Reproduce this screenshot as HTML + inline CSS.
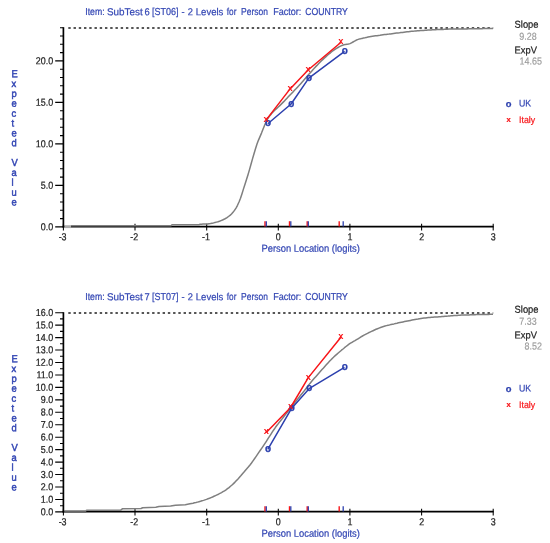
<!DOCTYPE html>
<html><head><meta charset="utf-8"><title>Item Characteristic Curves</title>
<style>
html,body{margin:0;padding:0;background:#fff}
svg{display:block}
.t{font-family:"Liberation Sans",sans-serif;font-size:9.35px;stroke-width:.2px}
.m{font-family:"Liberation Sans",sans-serif;font-size:9.35px;font-weight:bold}
.s{font-size:7.6px}.lg{font-size:8.8px}.v{stroke-width:.45px}.mo{font-size:10px;stroke-width:.25px}
.b{fill:#3447b4;stroke:#3447b4}.k{fill:#1a1a1a;stroke:#1a1a1a;stroke-width:.2px}.g{fill:#9a9a9a;stroke:#9a9a9a;stroke-width:.15px}
</style></head><body>
<svg width="550" height="543" viewBox="0 0 550 543">
<rect width="550" height="543" fill="#fff"/>
<g transform="translate(0,0)">
<text transform="translate(0,15.2) rotate(0.03) scale(1,1.08)" class="t b"><tspan x="85.3" textLength="19.3" lengthAdjust="spacingAndGlyphs">Item:</tspan> <tspan x="107.0" textLength="35.7" lengthAdjust="spacingAndGlyphs">SubTest</tspan> <tspan x="144.4">6</tspan> <tspan x="152.0" textLength="26.4" lengthAdjust="spacingAndGlyphs">[ST06]</tspan> <tspan x="181.5">-</tspan> <tspan x="187.8">2</tspan> <tspan x="195.8" textLength="27.5" lengthAdjust="spacingAndGlyphs">Levels</tspan> <tspan x="226.8" textLength="9.6" lengthAdjust="spacingAndGlyphs">for</tspan> <tspan x="241.1" textLength="26.8" lengthAdjust="spacingAndGlyphs">Person</tspan> <tspan x="273.2" textLength="28.1" lengthAdjust="spacingAndGlyphs">Factor:</tspan> <tspan x="305.2" textLength="42.7" lengthAdjust="spacingAndGlyphs">COUNTRY</tspan></text>
<line x1="68.3" y1="28" x2="493.2" y2="28" stroke="#555" stroke-width="1.9" stroke-dasharray="2.4 2.84"/>
<line x1="63.4" y1="27.2" x2="63.4" y2="227.5" stroke="#000" stroke-width="1.7"/>
<line x1="62.6" y1="226.7" x2="493.6" y2="226.7" stroke="#000" stroke-width="1.7"/>
<path d="M55.2,226.90H63.4M60.0,218.60H63.4M60.0,210.30H63.4M60.0,202.00H63.4M60.0,193.70H63.4M55.2,185.40H63.4M60.0,177.10H63.4M60.0,168.80H63.4M60.0,160.50H63.4M60.0,152.20H63.4M55.2,143.90H63.4M60.0,135.60H63.4M60.0,127.30H63.4M60.0,119.00H63.4M60.0,110.70H63.4M55.2,102.40H63.4M60.0,94.10H63.4M60.0,85.80H63.4M60.0,77.50H63.4M60.0,69.20H63.4M55.2,60.90H63.4M60.0,52.60H63.4M60.0,44.30H63.4M60.0,36.00H63.4M60.0,27.70H63.4" stroke="#000" stroke-width="1.1" fill="none"/>
<text transform="translate(53.1,230.2) rotate(0.03) scale(0.955,1.08)" class="t k" text-anchor="end">0.0</text>
<text transform="translate(53.1,188.7) rotate(0.03) scale(0.955,1.08)" class="t k" text-anchor="end">5.0</text>
<text transform="translate(53.1,147.2) rotate(0.03) scale(0.955,1.08)" class="t k" text-anchor="end">10.0</text>
<text transform="translate(53.1,105.7) rotate(0.03) scale(0.955,1.08)" class="t k" text-anchor="end">15.0</text>
<text transform="translate(53.1,64.2) rotate(0.03) scale(0.955,1.08)" class="t k" text-anchor="end">20.0</text>
<text transform="translate(62.6,240.2) rotate(0.03) scale(0.955,1.08)" class="t k" text-anchor="middle">-3</text>
<text transform="translate(134.2,240.2) rotate(0.03) scale(0.955,1.08)" class="t k" text-anchor="middle">-2</text>
<text transform="translate(205.9,240.2) rotate(0.03) scale(0.955,1.08)" class="t k" text-anchor="middle">-1</text>
<text transform="translate(278.3,240.2) rotate(0.03) scale(0.955,1.08)" class="t k" text-anchor="middle">0</text>
<text transform="translate(349.9,240.2) rotate(0.03) scale(0.955,1.08)" class="t k" text-anchor="middle">1</text>
<text transform="translate(421.6,240.2) rotate(0.03) scale(0.955,1.08)" class="t k" text-anchor="middle">2</text>
<text transform="translate(493.2,240.2) rotate(0.03) scale(0.955,1.08)" class="t k" text-anchor="middle">3</text>
<path d="M63.4,223.8V230.4M135.0,223.8V230.4M206.7,223.8V230.4M278.3,223.8V230.4M349.9,223.8V230.4M421.6,223.8V230.4M493.2,223.8V230.4" stroke="#000" stroke-width="1.05" fill="none"/>
<text transform="translate(261.5,251.8) rotate(0.03) scale(1,1.08)" class="t b" textLength="98.4" lengthAdjust="spacingAndGlyphs">Person Location (logits)</text>
<text transform="translate(11.5,0) rotate(0.03) scale(1,1.08)" class="t b v" x="0 0 0 0 0 0 0 0 0 0 0 0 0 0" y="71.48 80.62 89.76 98.90 108.04 117.18 126.31 135.45 144.59 153.73 162.87 172.01 181.15 190.29">Expected Value</text>
<line x1="64.4" y1="227" x2="71" y2="227" stroke="#aaa" stroke-width="2.2"/>
<polyline points="71.0,225.8 171.0,225.8 172.0,224.8 199.0,224.8 200.0,224.2 201.5,224.2 203.0,224.1 204.5,224.1 206.0,224.0 207.5,223.9 209.0,223.7 210.5,223.5 212.0,223.2 213.5,222.9 215.0,222.5 216.5,222.1 218.0,221.7 219.5,221.2 221.0,220.6 222.5,220.0 224.0,219.3 225.5,218.5 227.0,217.6 228.5,216.5 230.0,215.4 231.5,214.0 233.0,212.3 234.5,210.4 236.0,208.1 237.5,205.3 239.0,202.0 240.5,198.2 242.0,193.7 243.5,188.9 245.0,184.2 246.5,179.5 248.0,174.7 249.5,169.6 251.0,164.2 252.5,158.9 254.0,153.7 255.5,148.7 257.0,144.1 258.5,140.1 260.0,136.6 261.5,133.1 263.0,129.2 264.5,125.5 266.0,122.1 267.5,119.2 269.0,116.9 270.5,114.9 272.0,113.1 273.5,111.5 275.0,110.0 276.5,108.6 278.0,107.2 279.5,105.9 281.0,104.4 282.5,102.9 284.0,101.4 285.5,99.8 287.0,98.2 288.5,96.6 290.0,95.0 291.5,93.5 293.0,91.9 294.5,90.3 296.0,88.8 297.5,87.2 299.0,85.6 300.5,83.9 302.0,82.2 303.5,80.5 305.0,78.7 306.5,76.9 308.0,75.2 309.5,73.5 311.0,71.9 312.5,70.2 314.0,68.6 315.5,66.9 317.0,65.4 318.5,63.8 320.0,62.3 321.5,60.8 323.0,59.4 324.5,58.0 326.0,56.6 327.5,55.3 329.0,54.0 330.5,52.8 332.0,51.5 333.5,50.4 335.0,49.4 336.5,48.4 338.0,47.5 339.5,46.7 341.0,45.9 342.5,45.3 344.0,44.8 345.5,44.4 347.0,44.2 348.5,44.0 350.0,43.6 351.5,42.8 353.0,42.0 354.5,41.2 356.0,40.3 357.5,39.6 359.0,39.1 360.5,38.8 362.0,38.4 363.5,38.1 365.0,37.8 366.5,37.4 368.0,37.1 369.5,36.8 371.0,36.5 372.5,36.2 374.0,36.0 375.5,35.8 377.0,35.7 378.5,35.5 380.0,35.3 381.5,35.0 383.0,34.8 384.5,34.6 386.0,34.4 387.5,34.2 389.0,34.1 390.5,33.9 392.0,33.7 393.5,33.5 395.0,33.3 396.5,33.1 398.0,32.9 399.5,32.8 401.0,32.6 402.5,32.4 404.0,32.2 405.5,32.0 407.0,31.8 408.5,31.7 410.0,31.5 411.5,31.3 413.0,31.2 414.5,31.1 416.0,30.9 417.5,30.8 419.0,30.7 420.5,30.6 422.0,30.5 423.5,30.4 425.0,30.3 426.5,30.2 428.0,30.1 429.5,30.0 431.0,29.9 432.5,29.8 434.0,29.8 435.5,29.7 437.0,29.6 438.5,29.6 440.0,29.5 441.5,29.4 443.0,29.4 444.5,29.3 446.0,29.3 447.5,29.2 449.0,29.1 450.5,29.1 452.0,29.1 453.5,29.0 455.0,29.0 456.5,29.0 458.0,29.0 459.5,29.0 461.0,28.9 462.5,28.9 464.0,28.9 465.5,28.9 467.0,28.9 468.5,28.8 470.0,28.8 471.5,28.8 473.0,28.8 474.5,28.8 476.0,28.8 477.5,28.7 479.0,28.7 480.5,28.7 482.0,28.7 483.5,28.6 485.0,28.6 486.5,28.6 488.0,28.5 489.5,28.5 491.0,28.5 492.5,28.4 493.0,28.4" fill="none" stroke="#7f7f7f" stroke-width="1.5" stroke-linejoin="round"/>
<line x1="265.0" y1="221.2" x2="265.0" y2="226.4" stroke="#f81418" stroke-width="1.4"/>
<line x1="289.5" y1="221.2" x2="289.5" y2="226.4" stroke="#f81418" stroke-width="1.4"/>
<line x1="307.2" y1="221.2" x2="307.2" y2="226.4" stroke="#f81418" stroke-width="1.4"/>
<line x1="339.2" y1="221.2" x2="339.2" y2="226.4" stroke="#f81418" stroke-width="1.4"/>
<line x1="266.3" y1="221.2" x2="266.3" y2="226.4" stroke="#2c40ae" stroke-width="1.3"/>
<line x1="290.8" y1="221.2" x2="290.8" y2="226.4" stroke="#2c40ae" stroke-width="1.3"/>
<line x1="308.3" y1="221.2" x2="308.3" y2="226.4" stroke="#2c40ae" stroke-width="1.3"/>
<line x1="343.2" y1="221.2" x2="343.2" y2="226.4" stroke="#2c40ae" stroke-width="1.3"/>
<polyline points="267.8,123.7 291.1,104.0 308.8,78.2 344.6,51.3" fill="none" stroke="#2c40ae" stroke-width="1.5" stroke-linejoin="round"/>
<polyline points="266.2,119.9 290.1,88.9 308.1,70.0 340.8,42.5" fill="none" stroke="#f81418" stroke-width="1.5" stroke-linejoin="round"/>
<text x="268.0" y="126.4" class="m mo" fill="#2c40ae" stroke="#2c40ae" text-anchor="middle">o</text>
<text x="291.3" y="106.7" class="m mo" fill="#2c40ae" stroke="#2c40ae" text-anchor="middle">o</text>
<text x="309.0" y="80.9" class="m mo" fill="#2c40ae" stroke="#2c40ae" text-anchor="middle">o</text>
<text x="344.8" y="54.0" class="m mo" fill="#2c40ae" stroke="#2c40ae" text-anchor="middle">o</text>
<text x="266.2" y="121.8" class="m" fill="#f81418" text-anchor="middle">x</text>
<text x="290.1" y="90.8" class="m" fill="#f81418" text-anchor="middle">x</text>
<text x="308.1" y="71.9" class="m" fill="#f81418" text-anchor="middle">x</text>
<text x="340.8" y="44.4" class="m" fill="#f81418" text-anchor="middle">x</text>
<text transform="translate(514.6,27.7) rotate(0.03) scale(1,1.08)" class="t k">Slope</text>
<text transform="translate(536.6,39.7) rotate(0.03) scale(0.955,1.08)" class="t g" text-anchor="end">9.28</text>
<text transform="translate(514.6,53.5) rotate(0.03) scale(1,1.08)" class="t k">ExpV</text>
<text transform="translate(541.9,64.6) rotate(0.03) scale(0.955,1.08)" class="t g" text-anchor="end">14.65</text>
<text x="508.5" y="106.8" class="m" fill="#2c40ae" stroke="#2c40ae" stroke-width=".25" text-anchor="middle">o</text>
<text transform="translate(519,106.6) rotate(0.03) scale(1,1.08)" class="t lg" fill="#3447b4" stroke="#3447b4">UK</text>
<text x="508.5" y="122.1" class="m s" fill="#f81418" stroke="#f81418" stroke-width=".2" text-anchor="middle">x</text>
<text transform="translate(519,123) rotate(0.03) scale(1,1.08)" class="t lg" fill="#f81418" stroke="#f81418">Italy</text>
</g>
<g transform="translate(0,285)">
<text transform="translate(0,15.2) rotate(0.03) scale(1,1.08)" class="t b"><tspan x="85.3" textLength="19.3" lengthAdjust="spacingAndGlyphs">Item:</tspan> <tspan x="107.0" textLength="35.7" lengthAdjust="spacingAndGlyphs">SubTest</tspan> <tspan x="144.4">7</tspan> <tspan x="152.0" textLength="26.4" lengthAdjust="spacingAndGlyphs">[ST07]</tspan> <tspan x="181.5">-</tspan> <tspan x="187.8">2</tspan> <tspan x="195.8" textLength="27.5" lengthAdjust="spacingAndGlyphs">Levels</tspan> <tspan x="226.8" textLength="9.6" lengthAdjust="spacingAndGlyphs">for</tspan> <tspan x="241.1" textLength="26.8" lengthAdjust="spacingAndGlyphs">Person</tspan> <tspan x="273.2" textLength="28.1" lengthAdjust="spacingAndGlyphs">Factor:</tspan> <tspan x="305.2" textLength="42.7" lengthAdjust="spacingAndGlyphs">COUNTRY</tspan></text>
<line x1="68.3" y1="28" x2="493.2" y2="28" stroke="#555" stroke-width="1.9" stroke-dasharray="2.4 2.84"/>
<line x1="63.4" y1="27.2" x2="63.4" y2="227.5" stroke="#000" stroke-width="1.7"/>
<line x1="62.6" y1="226.7" x2="493.6" y2="226.7" stroke="#000" stroke-width="1.7"/>
<path d="M55.2,226.90H63.4M60.0,220.68H63.4M55.2,214.45H63.4M60.0,208.22H63.4M55.2,202.00H63.4M60.0,195.78H63.4M55.2,189.55H63.4M60.0,183.32H63.4M55.2,177.10H63.4M60.0,170.88H63.4M55.2,164.65H63.4M60.0,158.43H63.4M55.2,152.20H63.4M60.0,145.97H63.4M55.2,139.75H63.4M60.0,133.52H63.4M55.2,127.30H63.4M60.0,121.08H63.4M55.2,114.85H63.4M60.0,108.62H63.4M55.2,102.40H63.4M60.0,96.17H63.4M55.2,89.95H63.4M60.0,83.72H63.4M55.2,77.50H63.4M60.0,71.28H63.4M55.2,65.05H63.4M60.0,58.82H63.4M55.2,52.60H63.4M60.0,46.38H63.4M55.2,40.15H63.4M60.0,33.92H63.4M55.2,27.70H63.4" stroke="#000" stroke-width="1.1" fill="none"/>
<text transform="translate(53.1,230.2) rotate(0.03) scale(0.955,1.08)" class="t k" text-anchor="end">0.0</text>
<text transform="translate(53.1,217.8) rotate(0.03) scale(0.955,1.08)" class="t k" text-anchor="end">1.0</text>
<text transform="translate(53.1,205.3) rotate(0.03) scale(0.955,1.08)" class="t k" text-anchor="end">2.0</text>
<text transform="translate(53.1,192.9) rotate(0.03) scale(0.955,1.08)" class="t k" text-anchor="end">3.0</text>
<text transform="translate(53.1,180.4) rotate(0.03) scale(0.955,1.08)" class="t k" text-anchor="end">4.0</text>
<text transform="translate(53.1,168.0) rotate(0.03) scale(0.955,1.08)" class="t k" text-anchor="end">5.0</text>
<text transform="translate(53.1,155.5) rotate(0.03) scale(0.955,1.08)" class="t k" text-anchor="end">6.0</text>
<text transform="translate(53.1,143.1) rotate(0.03) scale(0.955,1.08)" class="t k" text-anchor="end">7.0</text>
<text transform="translate(53.1,130.6) rotate(0.03) scale(0.955,1.08)" class="t k" text-anchor="end">8.0</text>
<text transform="translate(53.1,118.1) rotate(0.03) scale(0.955,1.08)" class="t k" text-anchor="end">9.0</text>
<text transform="translate(53.1,105.7) rotate(0.03) scale(0.955,1.08)" class="t k" text-anchor="end">10.0</text>
<text transform="translate(53.1,93.2) rotate(0.03) scale(0.955,1.08)" class="t k" text-anchor="end">11.0</text>
<text transform="translate(53.1,80.8) rotate(0.03) scale(0.955,1.08)" class="t k" text-anchor="end">12.0</text>
<text transform="translate(53.1,68.3) rotate(0.03) scale(0.955,1.08)" class="t k" text-anchor="end">13.0</text>
<text transform="translate(53.1,55.9) rotate(0.03) scale(0.955,1.08)" class="t k" text-anchor="end">14.0</text>
<text transform="translate(53.1,43.4) rotate(0.03) scale(0.955,1.08)" class="t k" text-anchor="end">15.0</text>
<text transform="translate(53.1,31.0) rotate(0.03) scale(0.955,1.08)" class="t k" text-anchor="end">16.0</text>
<text transform="translate(62.6,240.2) rotate(0.03) scale(0.955,1.08)" class="t k" text-anchor="middle">-3</text>
<text transform="translate(134.2,240.2) rotate(0.03) scale(0.955,1.08)" class="t k" text-anchor="middle">-2</text>
<text transform="translate(205.9,240.2) rotate(0.03) scale(0.955,1.08)" class="t k" text-anchor="middle">-1</text>
<text transform="translate(278.3,240.2) rotate(0.03) scale(0.955,1.08)" class="t k" text-anchor="middle">0</text>
<text transform="translate(349.9,240.2) rotate(0.03) scale(0.955,1.08)" class="t k" text-anchor="middle">1</text>
<text transform="translate(421.6,240.2) rotate(0.03) scale(0.955,1.08)" class="t k" text-anchor="middle">2</text>
<text transform="translate(493.2,240.2) rotate(0.03) scale(0.955,1.08)" class="t k" text-anchor="middle">3</text>
<path d="M63.4,223.8V230.4M135.0,223.8V230.4M206.7,223.8V230.4M278.3,223.8V230.4M349.9,223.8V230.4M421.6,223.8V230.4M493.2,223.8V230.4" stroke="#000" stroke-width="1.05" fill="none"/>
<text transform="translate(261.5,251.8) rotate(0.03) scale(1,1.08)" class="t b" textLength="98.4" lengthAdjust="spacingAndGlyphs">Person Location (logits)</text>
<text transform="translate(11.5,0) rotate(0.03) scale(1,1.08)" class="t b v" x="0 0 0 0 0 0 0 0 0 0 0 0 0 0" y="71.48 80.62 89.76 98.90 108.04 117.18 126.31 135.45 144.59 153.73 162.87 172.01 181.15 190.29">Expected Value</text>
<line x1="64.3" y1="226.6" x2="86.2" y2="226.6" stroke="#666" stroke-width="2.1"/>
<polyline points="86.0,225.6 86.5,225.3 120.5,225.3 122.3,223.8 141.0,223.5 142.7,222.7 155.8,222.3 159.0,221.5 170.6,221.1 175.5,220.2 185.3,219.7 190.0,218.8 191.5,218.5 193.0,218.2 194.5,217.8 196.0,217.5 197.5,217.1 199.0,216.7 200.5,216.3 202.0,215.8 203.5,215.4 205.0,214.9 206.5,214.4 208.0,213.8 209.5,213.3 211.0,212.6 212.5,212.0 214.0,211.3 215.5,210.6 217.0,209.9 218.5,209.2 220.0,208.4 221.5,207.6 223.0,206.7 224.5,205.8 226.0,204.8 227.5,203.7 229.0,202.6 230.5,201.3 232.0,200.0 233.5,198.6 235.0,197.1 236.5,195.5 238.0,193.9 239.5,192.2 241.0,190.5 242.5,188.7 244.0,187.0 245.5,185.2 247.0,183.5 248.5,181.8 250.0,180.0 251.5,178.0 253.0,175.9 254.5,173.8 256.0,171.6 257.5,169.4 259.0,167.2 260.5,165.0 262.0,162.9 263.5,160.7 265.0,158.4 266.5,156.1 268.0,153.7 269.5,151.4 271.0,149.1 272.5,146.7 274.0,144.5 275.5,142.3 277.0,140.3 278.5,138.4 280.0,136.4 281.5,134.6 283.0,132.7 284.5,130.8 286.0,128.9 287.5,127.0 289.0,125.0 290.5,123.1 292.0,121.2 293.5,119.3 295.0,117.4 296.5,115.5 298.0,113.6 299.5,111.7 301.0,109.8 302.5,108.0 304.0,106.1 305.5,104.2 307.0,102.3 308.5,100.3 310.0,98.4 311.5,96.6 313.0,94.8 314.5,93.1 316.0,91.4 317.5,89.7 319.0,88.0 320.5,86.3 322.0,84.6 323.5,83.0 325.0,81.3 326.5,79.6 328.0,77.9 329.5,76.3 331.0,74.8 332.5,73.2 334.0,71.8 335.5,70.4 337.0,69.1 338.5,67.8 340.0,66.5 341.5,65.2 343.0,64.0 344.5,62.7 346.0,61.5 347.5,60.3 349.0,59.2 350.5,58.2 352.0,57.3 353.5,56.4 355.0,55.6 356.5,54.7 358.0,53.8 359.5,52.9 361.0,51.9 362.5,51.0 364.0,50.2 365.5,49.4 367.0,48.6 368.5,47.8 370.0,47.1 371.5,46.4 373.0,45.7 374.5,45.0 376.0,44.3 377.5,43.7 379.0,43.1 380.5,42.5 382.0,42.0 383.5,41.5 385.0,41.0 386.5,40.6 388.0,40.2 389.5,39.9 391.0,39.5 392.5,39.2 394.0,38.9 395.5,38.5 397.0,38.2 398.5,37.8 400.0,37.5 401.5,37.2 403.0,36.9 404.5,36.6 406.0,36.3 407.5,36.0 409.0,35.7 410.5,35.4 412.0,35.1 413.5,34.8 415.0,34.5 416.5,34.2 418.0,34.0 419.5,33.7 421.0,33.5 422.5,33.3 424.0,33.1 425.5,32.9 427.0,32.7 428.5,32.6 430.0,32.5 431.5,32.3 433.0,32.2 434.5,32.1 436.0,32.0 437.5,31.9 439.0,31.8 440.5,31.7 442.0,31.6 443.5,31.5 445.0,31.3 446.5,31.2 448.0,31.1 449.5,30.9 451.0,30.8 452.5,30.7 454.0,30.6 455.5,30.5 457.0,30.4 458.5,30.3 460.0,30.2 461.5,30.1 463.0,30.1 464.5,30.0 466.0,30.0 467.5,29.9 469.0,29.9 470.5,29.8 472.0,29.8 473.5,29.7 475.0,29.7 476.5,29.6 478.0,29.6 479.5,29.6 481.0,29.5 482.5,29.5 484.0,29.5 485.5,29.4 487.0,29.4 488.5,29.4 490.0,29.3 491.5,29.3 493.0,29.3" fill="none" stroke="#7f7f7f" stroke-width="1.5" stroke-linejoin="round"/>
<line x1="265.0" y1="221.2" x2="265.0" y2="226.4" stroke="#f81418" stroke-width="1.4"/>
<line x1="289.5" y1="221.2" x2="289.5" y2="226.4" stroke="#f81418" stroke-width="1.4"/>
<line x1="307.2" y1="221.2" x2="307.2" y2="226.4" stroke="#f81418" stroke-width="1.4"/>
<line x1="339.2" y1="221.2" x2="339.2" y2="226.4" stroke="#f81418" stroke-width="1.4"/>
<line x1="266.3" y1="221.2" x2="266.3" y2="226.4" stroke="#2c40ae" stroke-width="1.3"/>
<line x1="290.8" y1="221.2" x2="290.8" y2="226.4" stroke="#2c40ae" stroke-width="1.3"/>
<line x1="308.3" y1="221.2" x2="308.3" y2="226.4" stroke="#2c40ae" stroke-width="1.3"/>
<line x1="343.2" y1="221.2" x2="343.2" y2="226.4" stroke="#2c40ae" stroke-width="1.3"/>
<polyline points="267.8,164.3 291.7,123.2 309.1,103.7 344.5,82.3" fill="none" stroke="#2c40ae" stroke-width="1.5" stroke-linejoin="round"/>
<polyline points="266.3,147.5 290.6,122.5 308.3,92.6 340.9,52.3" fill="none" stroke="#f81418" stroke-width="1.5" stroke-linejoin="round"/>
<text x="268.0" y="167.0" class="m mo" fill="#2c40ae" stroke="#2c40ae" text-anchor="middle">o</text>
<text x="291.9" y="125.9" class="m mo" fill="#2c40ae" stroke="#2c40ae" text-anchor="middle">o</text>
<text x="309.3" y="106.4" class="m mo" fill="#2c40ae" stroke="#2c40ae" text-anchor="middle">o</text>
<text x="344.7" y="85.0" class="m mo" fill="#2c40ae" stroke="#2c40ae" text-anchor="middle">o</text>
<text x="266.3" y="149.4" class="m" fill="#f81418" text-anchor="middle">x</text>
<text x="290.6" y="124.4" class="m" fill="#f81418" text-anchor="middle">x</text>
<text x="308.3" y="94.5" class="m" fill="#f81418" text-anchor="middle">x</text>
<text x="340.9" y="54.2" class="m" fill="#f81418" text-anchor="middle">x</text>
<text transform="translate(514.6,27.7) rotate(0.03) scale(1,1.08)" class="t k">Slope</text>
<text transform="translate(536.6,39.7) rotate(0.03) scale(0.955,1.08)" class="t g" text-anchor="end">7.33</text>
<text transform="translate(514.6,53.5) rotate(0.03) scale(1,1.08)" class="t k">ExpV</text>
<text transform="translate(541.9,64.6) rotate(0.03) scale(0.955,1.08)" class="t g" text-anchor="end">8.52</text>
<text x="508.5" y="106.8" class="m" fill="#2c40ae" stroke="#2c40ae" stroke-width=".25" text-anchor="middle">o</text>
<text transform="translate(519,106.6) rotate(0.03) scale(1,1.08)" class="t lg" fill="#3447b4" stroke="#3447b4">UK</text>
<text x="508.5" y="122.1" class="m s" fill="#f81418" stroke="#f81418" stroke-width=".2" text-anchor="middle">x</text>
<text transform="translate(519,123) rotate(0.03) scale(1,1.08)" class="t lg" fill="#f81418" stroke="#f81418">Italy</text>
</g>
</svg>
</body></html>
